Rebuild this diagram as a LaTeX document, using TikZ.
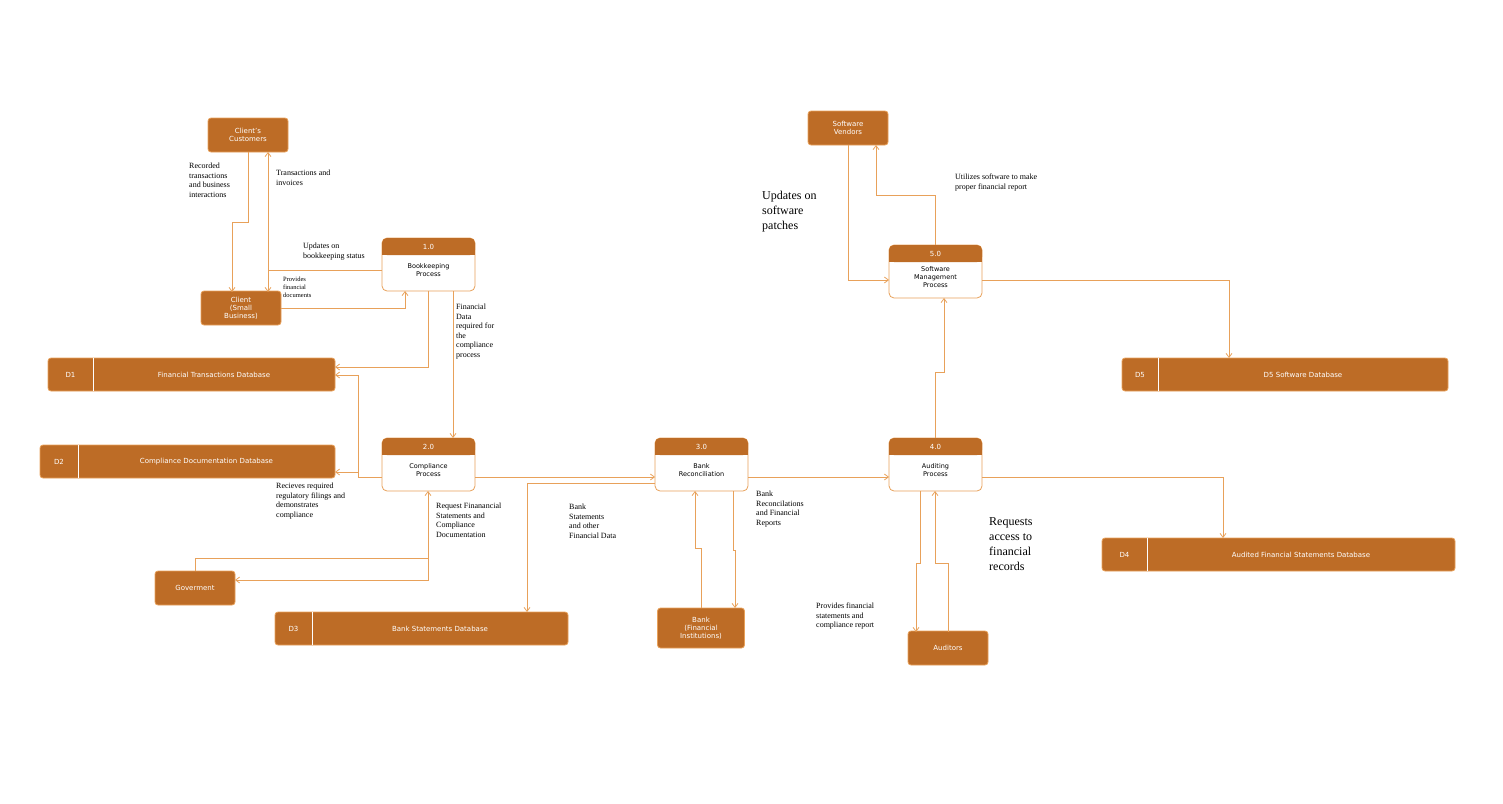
\documentclass[tikz,border=0pt]{standalone}
\usepackage{fontspec}
\setmainfont{Liberation Serif}
\setsansfont{DejaVu Sans}
\usetikzlibrary{arrows.meta,positioning}
\definecolor{brn}{HTML}{BD6C26}
\definecolor{lne}{HTML}{E8A15A}
\tikzset{
  entity/.style={draw=lne,fill=brn,rounded corners=3pt,text=white,font=\sffamily\fontsize{7}{8}\selectfont,align=center,minimum width=80pt,minimum height=34pt,line width=0.8pt},
  store/.style={draw=lne,fill=brn,rounded corners=3pt,line width=0.8pt},
  stxt/.style={text=white,font=\sffamily\fontsize{7}{8}\selectfont},
  ptxt/.style={font=\sffamily\fontsize{6.5}{8}\selectfont,align=center},
  flow/.style={draw=lne,line width=0.8pt,-{Straight Barb[length=4pt,width=6pt]}},
  lbl/.style={font=\fontsize{8}{9.5}\selectfont,align=left,anchor=north west,inner sep=0pt},
  big/.style={font=\fontsize{12}{15}\selectfont,align=left,anchor=north west,inner sep=0pt}
}
% process box: name, x, y (top left), number, text
\newcommand\procbox[5]{%
  \draw[lne,fill=white,rounded corners=5pt,line width=0.8pt] (#2,#3) rectangle ++(93,53);
  \fill[brn,rounded corners=5pt] (#2,#3) rectangle ++(93,17);
  \fill[brn] (#2,#3+10) rectangle ++(93,7);
  \node[text=white,font=\sffamily\fontsize{7}{8}\selectfont] at (#2+46.5,#3+8.5) {#4};
  \node[ptxt] at (#2+46.5,#3+32) {#5};
  \path (#2,#3) coordinate (#1-nw) (#2+93,#3+53) coordinate (#1-se);
  \node[inner sep=0pt,minimum width=93pt,minimum height=53pt] (#1) at (#2+46.5,#3+26.5) {};}
% data store: name, x1, y1, x2, separator x, id, text
\newcommand\dstore[7]{%
  \draw[store] (#2,#3) rectangle (#4,#3+33);
  \draw[white,line width=0.8pt] (#5,#3) -- (#5,#3+33);
  \node[stxt] at ({(#2+#5)/2},#3+16.5) {#6};
  \node[stxt] (#1) at ({(#5+#4)/2},#3+16.5) {#7};}
\begin{document}
\begin{tikzpicture}[x=1pt,y=-1pt]
\useasboundingbox (0,0) rectangle (1503,803);
% external entities
\node[entity] (cust) at (248,135) {Client's\\Customers};
\node[entity] (client) at (241,308) {Client\\(Small\\Business)};
\node[entity] (vendor) at (848,128) {Software\\Vendors};
\node[entity] (gov) at (195,588) {Goverment};
\node[entity,minimum width=87pt,minimum height=40pt] (bank) at (701,628) {Bank\\(Financial\\Institutions)};
\node[entity] (aud) at (948,648) {Auditors};
% processes
\procbox{p1}{382}{238}{1.0}{Bookkeeping\\Process}
\procbox{p2}{382}{438}{2.0}{Compliance\\Process}
\procbox{p3}{655}{438}{3.0}{Bank\\Reconciliation}
\procbox{p4}{889}{438}{4.0}{Auditing\\Process}
\procbox{p5}{889}{245}{5.0}{Software\\Management\\Process}
% data stores
\dstore{d1}{48}{358}{335}{93}{D1}{Financial Transactions Database}
\dstore{d2}{40}{445}{335}{78}{D2}{Compliance Documentation Database}
\dstore{d3}{275}{612}{568}{312}{D3}{Bank Statements Database}
\dstore{d5}{1122}{358}{1448}{1158}{D5}{D5 Software Database}
\dstore{d4}{1102}{538}{1455}{1147}{D4}{Audited Financial Statements Database}
% flows
\draw[flow] (248,152) -- (248,222) -- (232,222) -- (232,292);
\draw[flow] (382,270) -- (268,270) -- (268,152);
\draw[flow] (268,270) -- (268,292);
\draw[flow] (281,308) -- (405,308) -- (405,291);
\draw[flow] (428,291) -- (428,367) -- (335,367);
\draw[flow] (453,291) -- (453,438);
\draw[flow] (382,477) -- (358,477) -- (358,375) -- (335,375);
\draw[flow] (358,472) -- (335,472);
\draw[flow] (475,477) -- (655,477);
\draw[flow] (655,483) -- (527,483) -- (527,612);
\draw[flow] (195,571) -- (195,558) -- (428,558) -- (428,491);
\draw[flow] (428,558) -- (428,580) -- (235,580);
\draw[flow] (701,608) -- (701,548) -- (695,548) -- (695,491);
\draw[flow] (733,491) -- (733,550) -- (735,550) -- (735,608);
\draw[flow] (748,477) -- (889,477);
\draw[flow] (920,491) -- (920,563) -- (916,563) -- (916,632);
\draw[flow] (948,632) -- (948,563) -- (935,563) -- (935,491);
\draw[flow] (935,438) -- (935,372) -- (944,372) -- (944,298);
\draw[flow] (982,477) -- (1223,477) -- (1223,538);
\draw[flow] (982,280) -- (1229,280) -- (1229,358);
\draw[flow] (848,145) -- (848,280) -- (889,280);
\draw[flow] (935,245) -- (935,195) -- (876,195) -- (876,145);
% labels
\node[lbl] (l1) at (189,163) {Recorded\\transactions\\and business\\interactions};
\node[lbl] (l2) at (276,170) {Transactions and\\invoices};
\node[lbl] (l3) at (303,243) {Updates on\\bookkeeping status};
\node[lbl,font=\fontsize{6.5}{8}\selectfont] (l4) at (283,277) {Provides\\financial\\documents};
\node[lbl] (l5) at (456,304) {Financial\\Data\\required for\\the\\compliance\\process};
\node[lbl] (l6) at (276,483) {Recieves required\\regulatory filings and\\demonstrates\\compliance};
\node[lbl] (l7) at (436,503) {Request Finanancial\\Statements and\\Compliance\\Documentation};
\node[lbl] (l8) at (569,504) {Bank\\Statements\\and other\\Financial Data};
\node[lbl] (l9) at (756,491) {Bank\\Reconcilations\\and Financial\\Reports};
\node[lbl] (l10) at (816,603) {Provides financial\\statements and\\compliance report};
\node[big] (l11) at (989,517) {Requests\\access to\\financial\\records};
\node[big] (l12) at (762,191) {Updates on\\software\\patches};
\node[lbl] (l13) at (955,174) {Utilizes software to make\\proper financial report};
\end{tikzpicture}
\end{document}
